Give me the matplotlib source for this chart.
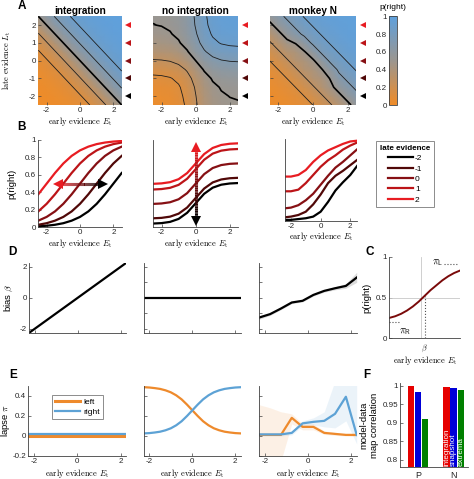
import numpy as np
import matplotlib
matplotlib.use("Agg")
import matplotlib.pyplot as plt
from matplotlib.colors import LinearSegmentedColormap
from matplotlib.collections import LineCollection
from matplotlib.lines import Line2D

# ---- data ----
e_grid = [-2.5, -2.0, -1.5, -1.0, -0.5, 0.0, 0.5, 1.0, 1.5, 2.0, 2.5]
l_grid = [-2.5, -2.0, -1.5, -1.0, -0.5, 0.0, 0.5, 1.0, 1.5, 2.0, 2.5]

# p(right) maps, rows = late evidence (from -2.5 up), cols = early evidence
map_integration = [
    [0.007, 0.011, 0.018, 0.029, 0.047, 0.076, 0.119, 0.182, 0.269, 0.378, 0.500],
    [0.011, 0.018, 0.029, 0.047, 0.076, 0.119, 0.182, 0.269, 0.378, 0.500, 0.622],
    [0.018, 0.029, 0.047, 0.076, 0.119, 0.182, 0.269, 0.378, 0.500, 0.622, 0.731],
    [0.029, 0.047, 0.076, 0.119, 0.182, 0.269, 0.378, 0.500, 0.622, 0.731, 0.818],
    [0.047, 0.076, 0.119, 0.182, 0.269, 0.378, 0.500, 0.622, 0.731, 0.818, 0.881],
    [0.076, 0.119, 0.182, 0.269, 0.378, 0.500, 0.622, 0.731, 0.818, 0.881, 0.924],
    [0.119, 0.182, 0.269, 0.378, 0.500, 0.622, 0.731, 0.818, 0.881, 0.924, 0.953],
    [0.182, 0.269, 0.378, 0.500, 0.622, 0.731, 0.818, 0.881, 0.924, 0.953, 0.971],
    [0.269, 0.378, 0.500, 0.622, 0.731, 0.818, 0.881, 0.924, 0.953, 0.971, 0.982],
    [0.378, 0.500, 0.622, 0.731, 0.818, 0.881, 0.924, 0.953, 0.971, 0.982, 0.989],
    [0.500, 0.622, 0.731, 0.818, 0.881, 0.924, 0.953, 0.971, 0.982, 0.989, 0.993],
]
map_nointegration = [
    [0.028, 0.033, 0.047, 0.081, 0.151, 0.260, 0.369, 0.439, 0.473, 0.487, 0.492],
    [0.043, 0.048, 0.062, 0.096, 0.166, 0.275, 0.384, 0.454, 0.488, 0.502, 0.507],
    [0.063, 0.068, 0.082, 0.116, 0.186, 0.295, 0.404, 0.474, 0.508, 0.522, 0.527],
    [0.103, 0.108, 0.122, 0.156, 0.226, 0.335, 0.444, 0.514, 0.548, 0.562, 0.567],
    [0.173, 0.178, 0.192, 0.226, 0.296, 0.405, 0.514, 0.584, 0.618, 0.632, 0.637],
    [0.268, 0.273, 0.287, 0.321, 0.391, 0.500, 0.609, 0.679, 0.713, 0.727, 0.732],
    [0.363, 0.368, 0.382, 0.416, 0.486, 0.595, 0.704, 0.774, 0.808, 0.822, 0.827],
    [0.433, 0.438, 0.452, 0.486, 0.556, 0.665, 0.774, 0.844, 0.878, 0.892, 0.897],
    [0.473, 0.478, 0.492, 0.526, 0.596, 0.705, 0.814, 0.884, 0.918, 0.932, 0.937],
    [0.498, 0.503, 0.517, 0.551, 0.621, 0.730, 0.839, 0.909, 0.943, 0.957, 0.962],
    [0.508, 0.513, 0.527, 0.561, 0.631, 0.740, 0.849, 0.919, 0.953, 0.967, 0.972],
]
map_monkey = [
    [0.017, 0.026, 0.040, 0.060, 0.089, 0.131, 0.188, 0.263, 0.354, 0.458, 0.565],
    [0.026, 0.040, 0.060, 0.089, 0.131, 0.188, 0.263, 0.354, 0.458, 0.565, 0.666],
    [0.040, 0.060, 0.089, 0.131, 0.188, 0.263, 0.354, 0.458, 0.565, 0.666, 0.754],
    [0.060, 0.089, 0.131, 0.188, 0.263, 0.354, 0.410, 0.510, 0.666, 0.754, 0.825],
    [0.089, 0.131, 0.188, 0.263, 0.354, 0.400, 0.490, 0.610, 0.754, 0.825, 0.879],
    [0.131, 0.188, 0.263, 0.354, 0.400, 0.480, 0.600, 0.754, 0.825, 0.879, 0.918],
    [0.188, 0.263, 0.354, 0.400, 0.490, 0.600, 0.754, 0.825, 0.879, 0.918, 0.945],
    [0.263, 0.354, 0.458, 0.510, 0.620, 0.754, 0.825, 0.879, 0.918, 0.945, 0.963],
    [0.354, 0.458, 0.565, 0.666, 0.754, 0.825, 0.879, 0.918, 0.945, 0.963, 0.976],
    [0.458, 0.565, 0.666, 0.754, 0.825, 0.879, 0.918, 0.945, 0.963, 0.976, 0.984],
    [0.565, 0.666, 0.754, 0.825, 0.879, 0.918, 0.945, 0.963, 0.976, 0.984, 0.990],
]
contour_levels = [0.13, 0.28, 0.72, 0.87]

late_values = [-2, -1, 0, 1, 2]
late_labels = ["-2", "-1", "0", "1", "2"]
late_rows = [1, 3, 5, 7, 9]   # rows of the maps at L = -2..2

# monkey psychometric curves (panel B, right), L = -2..2
b_monkey = [
    [0.01, 0.01, 0.02, 0.03, 0.05, 0.11, 0.23, 0.37, 0.47, 0.56, 0.68],
    [0.04, 0.05, 0.07, 0.11, 0.20, 0.32, 0.46, 0.55, 0.61, 0.68, 0.75],
    [0.15, 0.16, 0.19, 0.25, 0.33, 0.44, 0.55, 0.65, 0.72, 0.80, 0.88],
    [0.36, 0.36, 0.38, 0.46, 0.56, 0.66, 0.74, 0.80, 0.87, 0.92, 0.96],
    [0.54, 0.54, 0.56, 0.62, 0.72, 0.80, 0.86, 0.90, 0.94, 0.97, 0.98],
]

# bias (D)
d_line_x = [-2.25, 2.25]
d_integration = [-2.25, 2.25]
d_nointegration = [0.0, 0.0]
bins = [-2.25, -1.75, -1.25, -0.75, -0.25, 0.25, 0.75, 1.25, 1.75, 2.25]
d_monkey = [-1.27, -1.05, -0.69, -0.30, -0.19, 0.19, 0.45, 0.62, 0.77, 1.31]
d_monkey_lo = [-1.38, -1.13, -0.76, -0.37, -0.26, 0.12, 0.37, 0.52, 0.62, 1.00]
d_monkey_hi = [-1.15, -0.97, -0.62, -0.23, -0.12, 0.26, 0.53, 0.72, 0.92, 1.65]

# lapses (E)
e1_left = [0.0, 0.0]
e1_right = [0.015, 0.015]
e2_x = [-2.25, -2.0, -1.75, -1.5, -1.25, -1.0, -0.75, -0.5, -0.25, 0.0,
        0.25, 0.5, 0.75, 1.0, 1.25, 1.5, 1.75, 2.0, 2.25]
e2_left = [0.485, 0.482, 0.476, 0.468, 0.454, 0.434, 0.404, 0.364, 0.312, 0.255,
           0.198, 0.146, 0.106, 0.076, 0.056, 0.042, 0.034, 0.028, 0.025]
e2_right = [0.025, 0.028, 0.034, 0.042, 0.056, 0.076, 0.106, 0.146, 0.198, 0.255,
            0.312, 0.364, 0.404, 0.434, 0.454, 0.468, 0.476, 0.482, 0.485]
e3_left = [0.01, 0.01, 0.01, 0.18, 0.09, 0.09, 0.03, 0.02, 0.01, 0.01]
e3_left_lo = [-0.30, -0.30, -0.25, 0.12, 0.06, 0.06, 0.015, 0.005, 0.0, -0.005]
e3_left_hi = [0.31, 0.28, 0.24, 0.22, 0.12, 0.12, 0.05, 0.035, 0.025, 0.025]
e3_right = [0.015, 0.015, 0.015, 0.03, 0.125, 0.14, 0.15, 0.22, 0.39, 0.01]
e3_right_lo = [0.0, 0.0, 0.0, 0.01, 0.10, 0.11, 0.09, 0.08, 0.15, -0.08]
e3_right_hi = [0.03, 0.03, 0.03, 0.05, 0.15, 0.18, 0.24, 0.55, 0.60, 0.55]

# schematic (C)
c_x = [-3, -2.5, -2, -1.5, -1, -0.5, 0, 0.5, 1, 1.5, 2, 2.5, 3]
c_p = [0.25, 0.27, 0.30, 0.34, 0.39, 0.45, 0.52, 0.59, 0.65, 0.71, 0.76, 0.80, 0.83]

# model-data correlation (F)
f_groups = ["P", "N"]
f_models = ["integration", "snapshot", "extrema"]
f_values = {
    "integration": [0.999, 0.996],
    "snapshot": [0.983, 0.994],
    "extrema": [0.911, 0.988],
}

# ---- style ----
W, H = 474, 479
plt.rcParams["font.family"] = ["Liberation Sans", "DejaVu Sans"]
plt.rcParams["font.size"] = 5.8
plt.rcParams["mathtext.fontset"] = "cm"
plt.rcParams["axes.unicode_minus"] = False
plt.rcParams["xtick.direction"] = "in"
plt.rcParams["ytick.direction"] = "in"
plt.rcParams["xtick.major.size"] = 2
plt.rcParams["ytick.major.size"] = 2
plt.rcParams["xtick.major.width"] = 0.5
plt.rcParams["ytick.major.width"] = 0.5
plt.rcParams["xtick.major.pad"] = 1.5
plt.rcParams["ytick.major.pad"] = 1.5
plt.rcParams["axes.linewidth"] = 0.6
plt.rcParams["axes.edgecolor"] = "#404040"
plt.rcParams["xtick.color"] = "#404040"
plt.rcParams["ytick.color"] = "#404040"
plt.rcParams["xtick.labelcolor"] = "#262626"
plt.rcParams["ytick.labelcolor"] = "#262626"

cmap = LinearSegmentedColormap.from_list(
    "pright", ["#F08C28", "#9B9690", "#5FA0DC"])
late_colors = ["#000000", "#500808", "#861014", "#BC1418", "#E81C22"]
col_left = "#EE8A2C"
col_right = "#5DA2D5"
serif = "cmr10"
xlab = r"early evidence $E_\mathrm{t}$"
lab_fs = 6.0

fig = plt.figure(figsize=(W / 100, H / 100), dpi=100)


def px(x0, y0, x1, y1):
    return [x0 / W, 1 - y1 / H, (x1 - x0) / W, (y1 - y0) / H]


def box_off(ax):
    ax.spines["top"].set_visible(False)
    ax.spines["right"].set_visible(False)


def set_xlab(ax, y=None):
    ax.set_xlabel(xlab, family=serif, fontsize=lab_fs, labelpad=0.5)
    if y is not None:
        ax.xaxis.set_label_coords(0.5, y)


def ylab_at(ax, text, right_px, box, fs=6.8, **kw):
    # place y label so that its right edge sits at right_px (figure pixels)
    ax.set_ylabel(text, fontsize=fs, **kw)
    ax.yaxis.set_label_coords((right_px - box[0]) / (box[2] - box[0]), 0.5)


def grad_line(ax, p0, p1, c0, c1, lw=2.2):
    n = 40
    xs = np.linspace(p0[0], p1[0], n + 1)
    ys = np.linspace(p0[1], p1[1], n + 1)
    segs = [[(xs[i], ys[i]), (xs[i + 1], ys[i + 1])] for i in range(n)]
    cm = LinearSegmentedColormap.from_list("g", [c0, c1])
    lc = LineCollection(segs, colors=[cm(i / (n - 1)) for i in range(n)],
                        linewidths=lw, capstyle="butt")
    ax.add_collection(lc)


# ---- A: maps ----
a_boxes = [(38.3, 16.3, 121.7, 105), (153, 16.3, 238.3, 105), (269.7, 16.3, 356.3, 105)]
a_titles = ["integration", "no integration", "monkey N"]
a_maps = [map_integration, map_nointegration, map_monkey]
mesh = None
for i, (bx, grid, title) in enumerate(zip(a_boxes, a_maps, a_titles)):
    ax = fig.add_axes(px(*bx))
    grid = np.array(grid)
    mesh = ax.pcolormesh(e_grid, l_grid, grid, cmap=cmap, vmin=0, vmax=1,
                         shading="gouraud")
    ax.contour(e_grid, l_grid, grid, levels=contour_levels, colors="#1e1e1e",
               linewidths=0.6)
    ax.contour(e_grid, l_grid, grid, levels=[0.5], colors="k", linewidths=1.2)
    ax.set_xlim(-2.5, 2.5)
    ax.set_ylim(-2.5, 2.5)
    ax.set_xticks([-2, 0, 2])
    ax.set_yticks([-2, -1, 0, 1, 2])
    if i > 0:
        ax.set_yticklabels([])
    for sp in ax.spines.values():
        sp.set_visible(False)
    ax.set_title(title, fontweight="bold", fontsize=7.2, pad=2)
    set_xlab(ax)
    if i == 0:
        ylab_at(ax, r"late evidence $L_\mathrm{t}$", 13, bx, fs=lab_fs, family=serif)
    for lv, c in zip(late_values, late_colors):
        ax.plot(2.5 + 0.38, lv, marker="<", color=c, markersize=5,
                clip_on=False, markeredgewidth=0)

cax = fig.add_axes(px(389.3, 16.3, 397.3, 105))
cb = fig.colorbar(mesh, cax=cax, ticks=[0, 0.2, 0.4, 0.6, 0.8, 1])
cb.ax.set_yticklabels(["0", "0.2", "0.4", "0.6", "0.8", "1"])
cb.ax.yaxis.set_ticks_position("left")
cb.ax.tick_params(length=0)
cb.outline.set_linewidth(0.6)
cb.ax.set_title("p(right)", fontsize=6.0, pad=5)

# ---- B: psychometric slices ----
b_boxes = [(38.3, 140, 121.7, 227.3), (153, 140, 238.3, 227.3), (285, 139, 357, 220.7)]
b_curves = [np.array(map_integration)[late_rows], np.array(map_nointegration)[late_rows],
            np.array(b_monkey)]
b_axes = []
for i, (bx, curves) in enumerate(zip(b_boxes, b_curves)):
    ax = fig.add_axes(px(*bx))
    b_axes.append(ax)
    for row, c in zip(curves, late_colors):
        ax.plot(e_grid, row, color=c, lw=1.6)
    ax.set_ylim(0, 1)
    if i < 2:
        ax.set_xlim(-2.5, 2.5)
    else:
        ax.set_xlim(-2.4, 2.45)
    ax.set_xticks([-2, 0, 2])
    ax.set_yticks([0, 0.2, 0.4, 0.6, 0.8, 1])
    if i == 0:
        ax.set_yticklabels(["0", "0.2", "0.4", "0.6", "0.8", "1"])
        ylab_at(ax, "p(right)", 16, bx)
    else:
        ax.set_yticklabels([])
        ax.tick_params(axis="y", length=0)
    box_off(ax)
    set_xlab(ax)

# arrows
ax = b_axes[0]
grad_line(ax, (-1.2, 0.5), (1.25, 0.5), late_colors[4], late_colors[0])
ax.plot(-1.33, 0.5, marker="<", color=late_colors[4], markersize=6.5, markeredgewidth=0)
ax.plot(1.38, 0.5, marker=">", color=late_colors[0], markersize=6.5, markeredgewidth=0)
ax = b_axes[1]
grad_line(ax, (0, 0.9), (0, 0.1), late_colors[4], late_colors[0])
ax.plot(0, 0.92, marker="^", color=late_colors[4], markersize=6.5, markeredgewidth=0)
ax.plot(0, 0.075, marker="v", color=late_colors[0], markersize=6.5, markeredgewidth=0)

handles = [Line2D([], [], color=c, lw=1.6) for c in late_colors]
leg = fig.legend(handles, late_labels, title="late evidence", loc="upper left",
                 bbox_to_anchor=(372 / W, 1 - 137 / H), fontsize=6,
                 title_fontsize=5.8, handlelength=3.0, handletextpad=0.3,
                 labelspacing=0.3, borderpad=0.45, fancybox=False,
                 edgecolor="#8c8c8c", framealpha=1)
leg.get_title().set_fontweight("bold")
leg.get_frame().set_linewidth(0.7)

# ---- D: bias ----
d_boxes = [(29.3, 263, 126, 332.7), (144, 263, 240.7, 332.7), (259.3, 263, 356.7, 332.7)]
for i, bx in enumerate(d_boxes):
    ax = fig.add_axes(px(*bx))
    if i == 0:
        ax.plot(d_line_x, d_integration, color="k", lw=1.6)
        ax.set_yticks([-2, 0, 2])
        ylab_at(ax, r"bias $\beta$", 15, bx)
    elif i == 1:
        ax.plot(d_line_x, d_nointegration, color="k", lw=1.6)
        ax.set_yticks([-2, -1, 0, 1, 2])
        ax.set_yticklabels([])
    else:
        ax.fill_between(bins, d_monkey_lo, d_monkey_hi, color="#dcdcdc", lw=0)
        ax.plot(bins, d_monkey, color="k", lw=1.6)
        ax.set_yticks([-2, -1, 0, 1, 2])
        ax.set_yticklabels([])
    ax.set_xlim(-2.25, 2.25)
    ax.set_ylim(-2.25, 2.25)
    ax.set_xticks([-2, 0, 2])
    ax.set_xticklabels([])
    box_off(ax)

# ---- C: schematic ----
c_box = (389.3, 256.7, 460, 338.3)
ax = fig.add_axes(px(*c_box))
ax.axhline(0.5, color="#c8c8c8", lw=0.6)
ax.axvline(-0.35, color="#c8c8c8", lw=0.6)
ax.plot([0, 0], [0, 0.52], ls=":", color="#505050", lw=0.8)
ax.plot([1.6, 2.75], [0.91, 0.91], ls=":", color="#505050", lw=0.8)
ax.plot([-3, -2.15], [0.2, 0.2], ls=":", color="#505050", lw=0.8)
ax.plot(c_x, c_p, color="#7a0a0a", lw=1.4)
ax.text(1.15, 0.93, r"$\pi_{\mathsf{L}}$", fontsize=7.5, ha="center", va="center")
ax.text(-1.65, 0.08, r"$\pi_{\mathsf{R}}$", fontsize=7.5, ha="center", va="center")
ax.set_xlim(-3, 3)
ax.set_ylim(0, 1)
ax.set_yticks([0, 0.5, 1])
ax.set_yticklabels(["0", "0.5", "1"])
ax.set_xticks([0])
ax.set_xticklabels([r"$\beta$"])
ax.tick_params(axis="x", length=0, pad=3)
ylab_at(ax, "p(right)", 371, c_box)
set_xlab(ax)
box_off(ax)

# ---- E: lapses ----
e_boxes = [(28.3, 385.7, 126, 456), (144, 385.7, 240.7, 456), (259.3, 385.7, 356.7, 456)]
for i, bx in enumerate(e_boxes):
    ax = fig.add_axes(px(*bx))
    if i == 0:
        ax.plot(d_line_x, e1_left, color=col_left, lw=2.2, label="left")
        ax.plot(d_line_x, e1_right, color=col_right, lw=1.6, label="right")
        ax.set_yticks([-0.2, 0, 0.2, 0.4])
        ax.set_yticklabels(["-0.2", "0", "0.2", "0.4"])
        ylab_at(ax, r"lapse $\pi$", 12.5, bx)
        lg = ax.legend(loc="upper left", bbox_to_anchor=(0.2, 0.93), fontsize=6,
                       handlelength=3.0, handletextpad=0.4, fancybox=False,
                       edgecolor="#8c8c8c", framealpha=1, borderpad=0.35,
                       labelspacing=0.3)
        lg.get_frame().set_linewidth(0.7)
    elif i == 1:
        ax.plot(e2_x, e2_left, color=col_left, lw=1.6)
        ax.plot(e2_x, e2_right, color=col_right, lw=1.6)
        ax.set_yticks([-0.2, 0, 0.2, 0.4])
        ax.set_yticklabels([])
    else:
        ax.fill_between(bins, e3_left_lo, e3_left_hi, color=col_left, alpha=0.12, lw=0)
        ax.fill_between(bins, e3_right_lo, e3_right_hi, color=col_right, alpha=0.12, lw=0)
        ax.plot(bins, e3_left, color=col_left, lw=1.6)
        ax.plot(bins, e3_right, color=col_right, lw=1.6)
        ax.set_yticks([-0.2, 0, 0.2, 0.4])
        ax.set_yticklabels([])
    ax.set_xlim(-2.25, 2.25)
    ax.set_ylim(-0.2, 0.5)
    ax.set_xticks([-2, 0, 2])
    set_xlab(ax, y=-0.16)
    box_off(ax)

# ---- F: correlation bars ----
f_box = (400, 383.3, 468, 467.3)
ax = fig.add_axes(px(*f_box))
bar_cols = {"integration": "#E60000", "snapshot": "#0000D8", "extrema": "#008000"}
offs = [-0.2, 0.0, 0.2]
xg = np.arange(1, len(f_groups) + 1)
for m, o in zip(f_models, offs):
    ax.bar(xg + o, f_values[m], width=0.18, color=bar_cols[m], edgecolor="none")
    ax.text(xg[-1] + o, 0.784, m, rotation=90, color="white", fontsize=5.8,
            ha="center", va="bottom")
ax.set_xlim(0.5, 2.4)
ax.set_ylim(0.78, 1.006)
ax.set_xticks(xg)
ax.set_xticklabels(f_groups, fontsize=6.5)
ax.tick_params(axis="x", length=0, pad=3)
ax.set_yticks([0.8, 0.85, 0.9, 0.95, 1])
ax.set_yticklabels(["0.8", "0.85", "0.9", "0.95", "1"])
ylab_at(ax, "model-data\nmap correlation", 379, f_box)
box_off(ax)

# ---- panel letters ----
for letter, (x, y) in {"A": (22, 6), "B": (21, 127), "C": (370, 252),
                       "D": (12, 252), "E": (13, 375), "F": (367, 375)}.items():
    fig.text(x / W, 1 - y / H, letter, fontweight="bold", fontsize=8.5,
             ha="center", va="center")

fig.savefig("out.png", dpi=100)
